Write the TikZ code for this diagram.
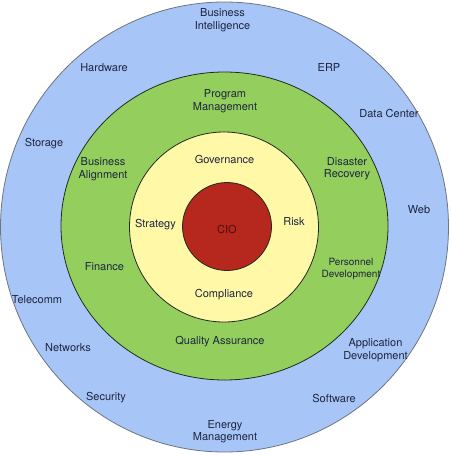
\documentclass[tikz,border=0pt]{standalone}
\usepackage{fontspec}
\setmainfont{TeX Gyre Heros}
\usepackage{xcolor}
\usepackage{tikz}
\usetikzlibrary{shapes.geometric}
\definecolor{cioblue}{HTML}{A8C5F7}
\definecolor{ciogreen}{HTML}{94CF5D}
\definecolor{cioyellow}{HTML}{FFF8A6}
\definecolor{ciored}{HTML}{B6281D}
\definecolor{cioline}{HTML}{1F2A24}
\definecolor{ciogray}{HTML}{6E7480}
\definecolor{ciotext}{HTML}{1C2540}
\definecolor{ciodark}{HTML}{4A0E0C}

\begin{document}
\begin{tikzpicture}[x=1pt, y=-1pt,
  ring/.style={ellipse, draw=cioline, line width=0.8pt, inner sep=0pt},
  lbl/.style={align=center, text=ciotext, inner sep=0pt, font=\fontsize{11}{12.5}\selectfont},
  small/.style={lbl, font=\fontsize{10}{12}\selectfont}
]
  \useasboundingbox[fill=white] (0,0) rectangle (450,455);

  % rings
  \node[ring, draw=ciogray, fill=cioblue, minimum width=448pt, minimum height=450pt] (outer) at (224.5,227) {};
  \node[ring, fill=ciogreen, minimum width=327pt, minimum height=308pt] (middle) at (224.5,226) {};
  \node[ring, fill=cioyellow, minimum width=189pt, minimum height=190pt] (inner) at (224,227) {};
  \node[ring, fill=ciored, minimum width=89pt, minimum height=88pt] (core) at (227,226.5) {};
  \node[lbl, text=ciodark] (cio) at (227,229) {CIO};

  % outer ring
  \node[lbl] (bi) at (222.5,20) {Business\\Intelligence};
  \node[lbl] (hardware) at (104,68) {Hardware};
  \node[lbl] (erp) at (329,67) {ERP};
  \node[lbl] (datacenter) at (389,113) {Data Center};
  \node[lbl] (storage) at (44,144) {Storage};
  \node[lbl] (web) at (419,210) {Web};
  \node[lbl] (telecomm) at (37,300) {Telecomm};
  \node[lbl] (networks) at (68,348) {Networks};
  \node[lbl] (security) at (106,398) {Security};
  \node[lbl] (energy) at (225,431.5) {Energy\\Management};
  \node[lbl] (software) at (334,398) {Software};
  \node[lbl] (appdev) at (375.5,350) {Application\\Development};

  % middle ring
  \node[lbl] (program) at (225,101) {Program\\Management};
  \node[lbl] (alignment) at (103,169) {Business\\Alignment};
  \node[lbl] (disaster) at (347,168.5) {Disaster\\Recovery};
  \node[lbl] (finance) at (104.5,267) {Finance};
  \node[small] (personnel) at (351,268.5) {Personnel\\Development};
  \node[lbl] (quality) at (220,342) {Quality Assurance};

  % inner ring
  \node[lbl] (governance) at (224.5,159) {Governance};
  \node[lbl] (strategy) at (155.5,225) {Strategy};
  \node[lbl] (risk) at (294,222) {Risk};
  \node[lbl] (compliance) at (224,295) {Compliance};
\end{tikzpicture}
\end{document}
